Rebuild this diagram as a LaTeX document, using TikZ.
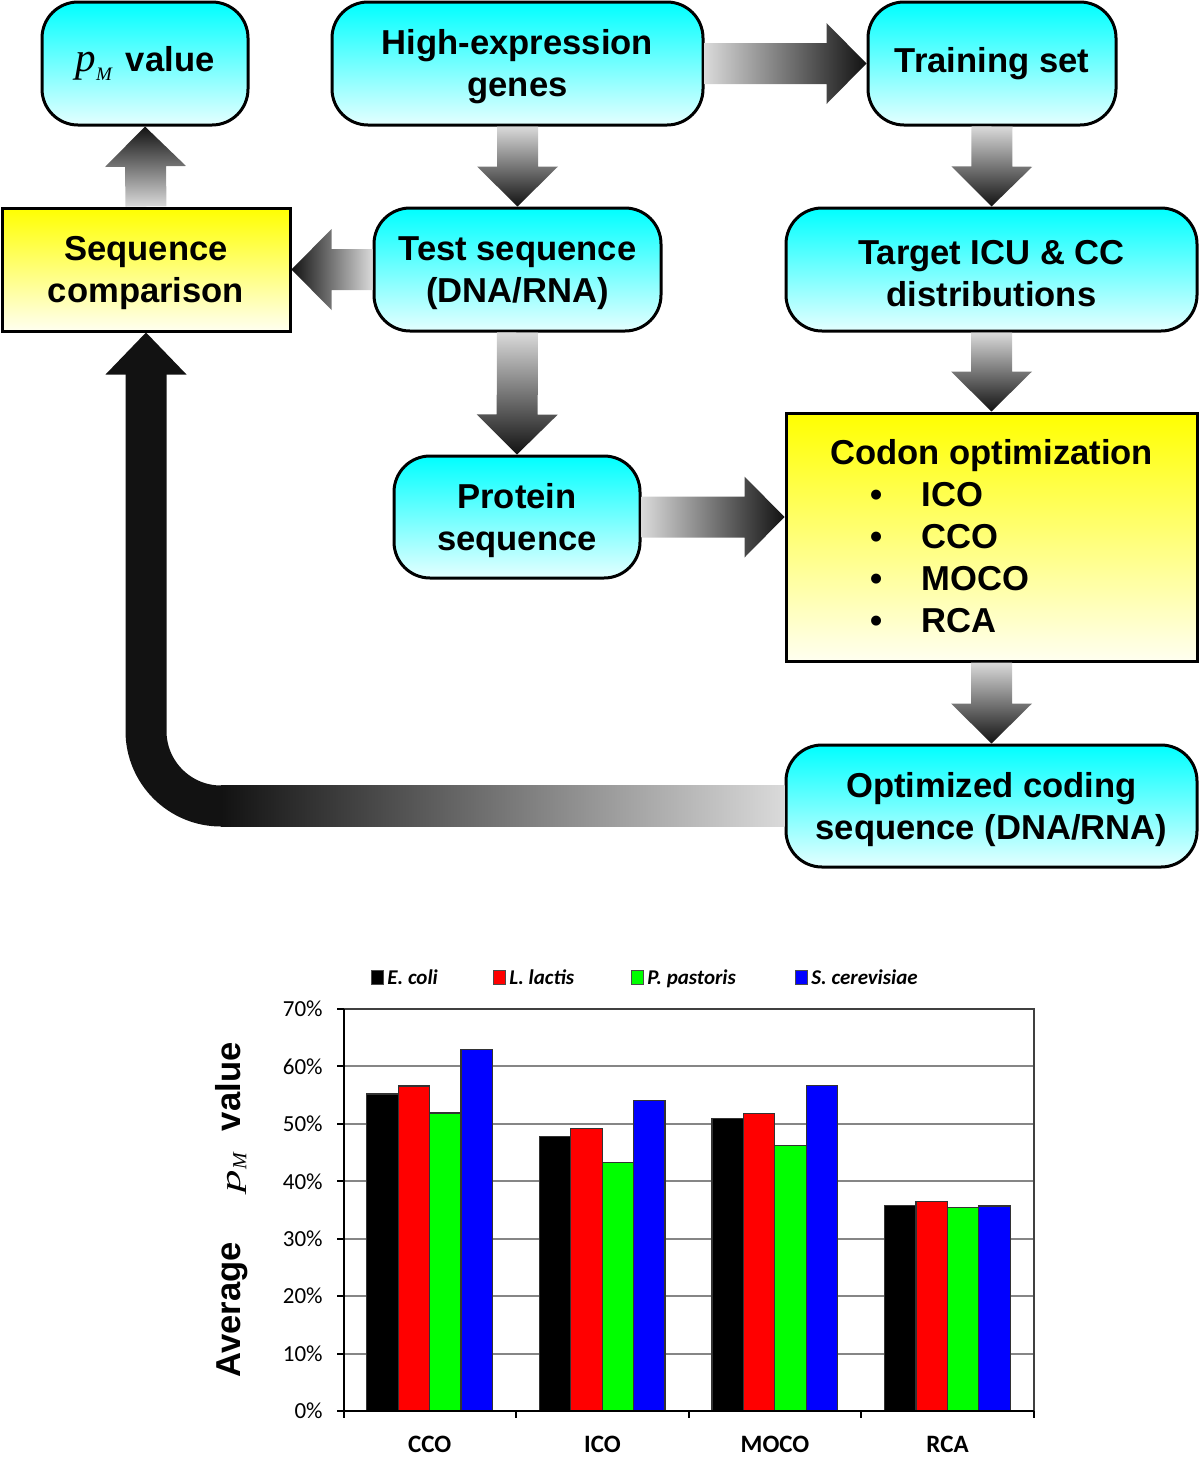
\documentclass[tikz,border=0pt]{standalone}
\usepackage{fontspec}
\setmainfont{Liberation Sans}
\newfontfamily\chartfont{Carlito}
\newfontfamily\pmfont{Liberation Serif}
\usetikzlibrary{positioning, calc, shapes}

\definecolor{boxcyan}{RGB}{0,255,255}
\definecolor{boxcyanlo}{RGB}{228,255,255}
\definecolor{boxyel}{RGB}{255,255,0}
\definecolor{boxyello}{RGB}{255,255,240}
\definecolor{arrtail}{RGB}{218,218,218}
\definecolor{arrhead}{RGB}{18,18,18}
\definecolor{gridgray}{RGB}{134,134,134}
\colorlet{barc0}{black}
\definecolor{barc1}{RGB}{255,0,0}
\definecolor{barc2}{RGB}{0,255,0}
\definecolor{barc3}{RGB}{0,0,255}

\newcommand{\flowfont}{\bfseries\fontsize{17.3}{21}\selectfont}
\newcommand{\chartsize}{\fontsize{10.5}{12}\selectfont}
\newcommand{\tstrut}{\rule{0pt}{16pt}}
% p with subscript M: #1 size of p, #2 size of M, #3 drop of M, #4 stretch of p
\newcommand{\pMsym}[4]{\scalebox{#4}[1]{\pmfont\mdseries\itshape\fontsize{#1}{#1}\selectfont p}\raisebox{-#3}{\pmfont\mdseries\itshape\fontsize{#2}{#2}\selectfont M}}
% block arrow: #1 shading, #2 from, #3 to
\newcommand{\blockarrow}[3]{%
    \coordinate (ba-s) at (#2);
    \coordinate (ba-t) at (#3);
    \coordinate (ba-h) at ($(ba-t)!20pt!(ba-s)$);
    \shade[#1] ($(ba-s)!10.25pt!90:(ba-t)$) -- ($(ba-h)!10.25pt!90:(ba-t)$)
        -- ($(ba-h)!20.25pt!90:(ba-t)$) -- (ba-t)
        -- ($(ba-h)!20.25pt!-90:(ba-t)$) -- ($(ba-h)!10.25pt!-90:(ba-t)$)
        -- ($(ba-s)!10.25pt!-90:(ba-t)$) -- cycle;
}

\begin{document}
\begin{tikzpicture}[
    % GLOBAL CFG
    x=0.5pt, y=-0.5pt,
    % Styles
    rbox/.style={% For the cyan boxes
        rectangle,
        rounded corners=18pt,
        draw,
        line width=1.5pt,
        top color=boxcyan,
        bottom color=boxcyanlo,
        align=center,
        font=\flowfont,
        },
    ybox/.style={% For the yellow boxes
        rectangle,
        draw,
        line width=1.5pt,
        top color=boxyel,
        bottom color=boxyello,
        align=center,
        font=\flowfont,
        },
    arrR/.style={left color=arrtail, right color=arrhead},
    arrL/.style={left color=arrhead, right color=arrtail},
    arrD/.style={top color=arrtail, bottom color=arrhead},
    arrU/.style={top color=arrhead, bottom color=arrtail},
    ticklabel/.style={% For the chart texts
        font=\chartfont\fontsize{11.5}{13}\selectfont,
        inner sep=0pt,
        },
    ]
\useasboundingbox (0,0) rectangle (1200,1462);

%Start drawing the flow chart
    % Top row
    \node[rbox, minimum width=103pt, minimum height=61.5pt] (pm) at (145,63.5) {\pMsym{20.5}{9.5}{4.5pt}{1}\hspace{7pt}value};
    \node[rbox, minimum width=185.5pt, minimum height=61.5pt] (genes) at (517.5,63.5) {\tstrut High-expression\\genes};
    \node[rbox, minimum width=124pt, minimum height=61.5pt] (train) at (992,63.5) {Training set};

    % Second row
    \node[ybox, minimum width=144pt, minimum height=61.5pt] (seqcmp) at (146,269.5) {\tstrut Sequence\\comparison};
    \node[rbox, minimum width=143.5pt, minimum height=61.5pt] (test) at (517.5,269.5) {\tstrut Test sequence\\(DNA/RNA)};
    \node[rbox, minimum width=205.5pt, minimum height=61.5pt] (target) at (991.5,269.5) {\tstrut Target ICU \& CC\\distributions};

    % Protein and codon optimization
    \node[rbox, minimum width=123pt, minimum height=61pt] (protein) at (517,517) {\tstrut Protein\\sequence};
    \node[ybox, minimum width=205.5pt, minimum height=124pt] (codon) at (991.5,537) {};
    \node[anchor=base, font=\flowfont] (codontitle) at (991.5,464) {Codon optimization};
    \foreach \meth [count=\k] in {ICO,CCO,MOCO,RCA}{
        \node[anchor=base, font=\flowfont] (bul\k) at (877,{464+42*\k}) {\textbullet};
        \node[anchor=base west, inner sep=0pt, font=\flowfont] (meth\k) at (921,{464+42*\k}) {\meth};
    }

    % Output
    \node[rbox, minimum width=205.5pt, minimum height=61pt] (opt) at (991.5,806) {\tstrut Optimized coding\\sequence (DNA/RNA)};

% Start connecting all.
    \blockarrow{arrR}{genes.east}{train.west}
    \blockarrow{arrD}{genes.south}{test.north}
    \blockarrow{arrD}{train.south}{target.north}
    \blockarrow{arrL}{test.west}{seqcmp.east}
    \blockarrow{arrU}{seqcmp.north}{pm.south}
    \blockarrow{arrD}{test.south}{protein.north}
    \blockarrow{arrD}{target.south}{codon.north}
    \blockarrow{arrR}{protein.east}{protein.east -| codon.west}
    \blockarrow{arrD}{codon.south}{opt.north}

    % Feedback arrow
    \coordinate (bend) at (seqcmp.south |- opt.west);
    \draw[line width=20.5pt, arrhead, rounded corners=37.5pt] ($(seqcmp.south)+(0,40)$) -- (bend) -- ($(bend)+(80,0)$);
    \shade[left color=arrhead, right color=arrtail] ($(bend)+(75,-20.5)$) rectangle ($(opt.west)+(0,20.5)$);
    \fill[arrhead] ($(seqcmp.south)+(-40.5,42)$) -- (seqcmp.south) -- ($(seqcmp.south)+(40.5,42)$) -- cycle;

%Start drawing the bar chart
    % Grid and frame
    \foreach \p in {1,...,6}
        \draw[gridgray, line width=1pt] (343.5,{1411-57.43*\p}) -- (1034,{1411-57.43*\p});
    \draw[black!75, line width=1pt] (343.5,1009) -- (1034,1009) -- (1034,1411);

    % Bars
    \foreach \g/\vals in {0/{55.2,56.6,51.9,62.9}, 1/{47.8,49.2,43.3,54.0}, 2/{51.0,51.8,46.3,56.7}, 3/{35.8,36.5,35.5,35.7}}{
        \foreach \v [count=\b from 0] in \vals
            \filldraw[fill=barc\b, draw=black!80, line width=0.6pt]
                ({366.7+172.6*\g+31.4*\b},1411) rectangle ({366.7+172.6*\g+31.4*(\b+1)},{1411-5.743*\v});
    }

    % Axes
    \draw[line width=1pt] (343.5,1009) -- (343.5,1411) -- (1034,1411);
    \foreach \p [evaluate=\p as \pc using int(10*\p)] in {0,...,7}{
        \draw[line width=1pt] (337,{1411-57.43*\p}) -- (343.5,{1411-57.43*\p});
        \node[ticklabel, anchor=east] (tick\p) at (323,{1411-57.43*\p}) {\pc\%};
    }
    \foreach \k in {0,...,4}
        \draw[line width=1pt] ({343.5+172.6*\k},1411) -- ++(0,7);
    \foreach \c [count=\k from 0] in {CCO,ICO,MOCO,RCA}
        \node[ticklabel, font=\chartfont\bfseries\fontsize{12.5}{14}\selectfont] (cat\k) at ({429.8+172.6*\k},1444) {\c};

    % Legend
    \foreach \lx/\name [count=\b from 0] in {371/E. coli, 493/L. lactis, 631/P. pastoris, 795/S. cerevisiae}{
        \filldraw[fill=barc\b, draw=black!70, line width=0.5pt] (\lx,970.5) rectangle ++(12,13.5);
        \node[ticklabel, anchor=base west, font=\chartfont\bfseries\itshape\chartsize] (leg\b) at (\lx+16,984) {\name};
    }

    % Axis title
    \node[rotate=90, font=\flowfont] (ytitle) at (232,1210) {Average\hspace{25pt}\pMsym{14}{10}{2.75pt}{1.6}\hspace{11pt}value};

\end{tikzpicture}
\end{document}
